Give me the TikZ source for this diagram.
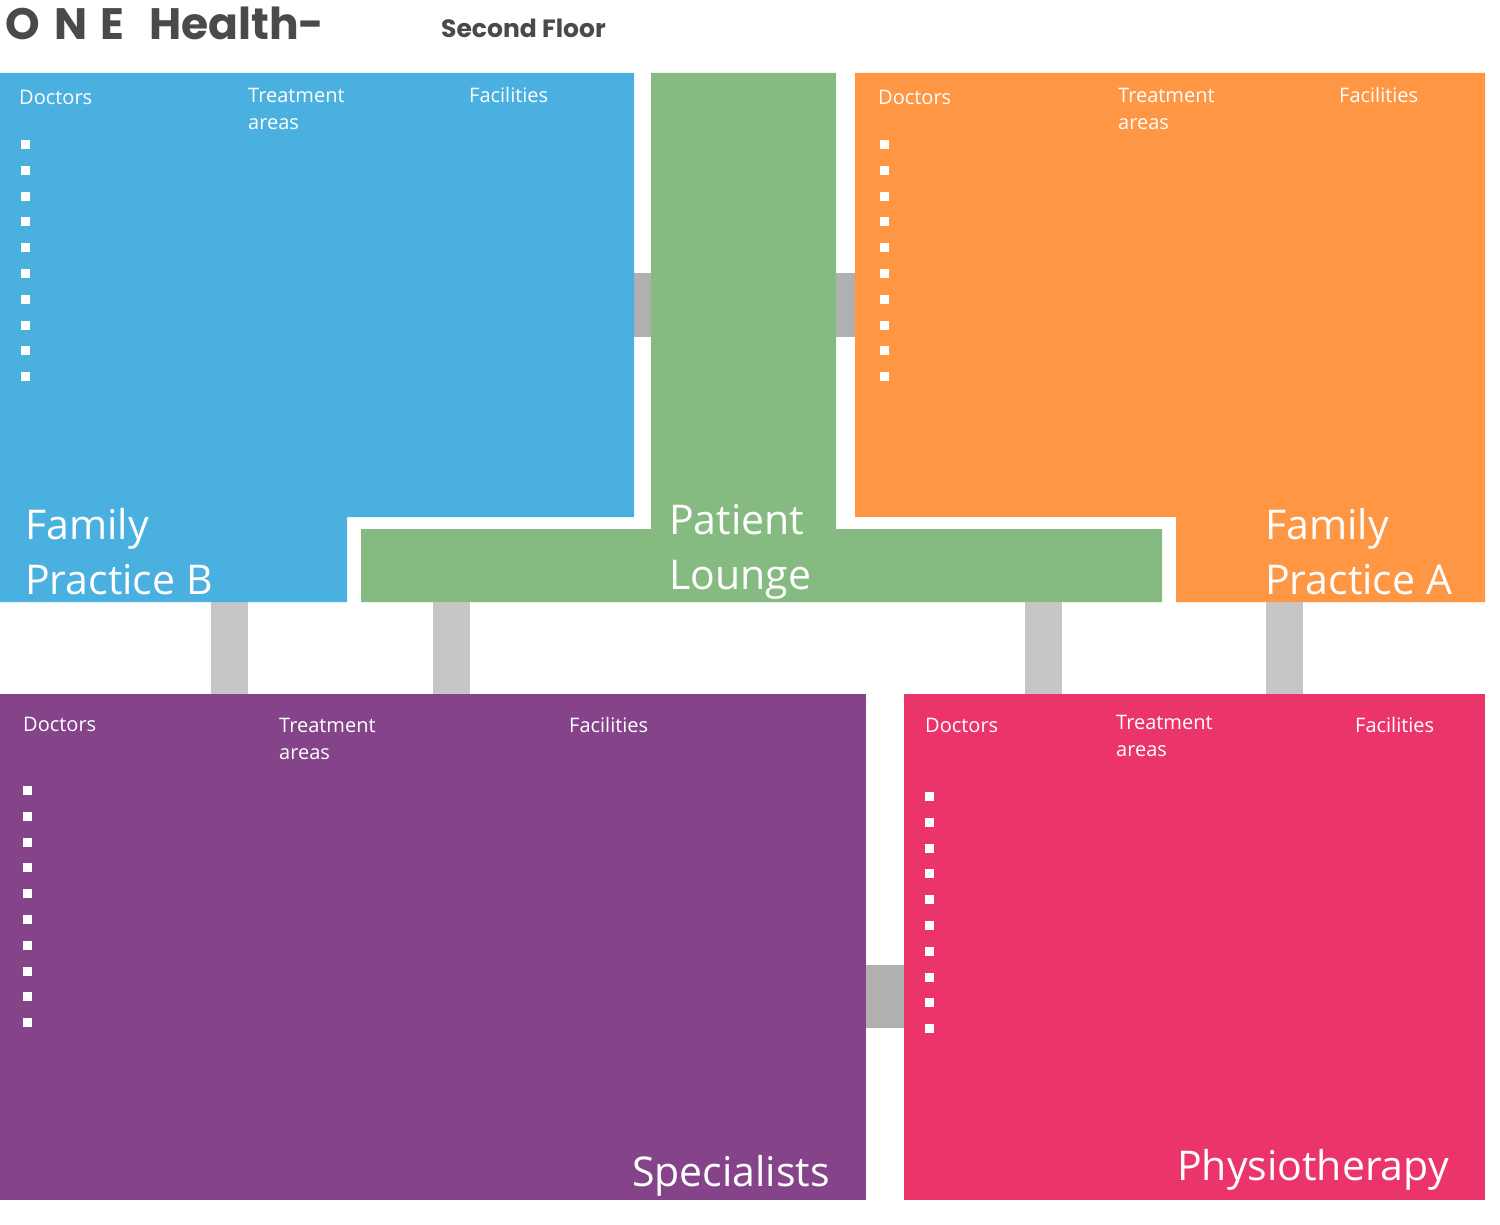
\documentclass[tikz,border=0pt]{standalone}
\usepackage{fontspec}
\setmainfont{Open Sans}
\newfontfamily\poppins{Poppins}
\definecolor{cblue}{HTML}{4AB0E0}
\definecolor{cgreen}{HTML}{85BA80}
\definecolor{corange}{HTML}{FE9644}
\definecolor{cpurple}{HTML}{85438A}
\definecolor{cpink}{HTML}{EB346A}
\definecolor{cgrayA}{HTML}{B0B0B0}
\definecolor{cgrayB}{HTML}{C6C6C6}
\definecolor{ctitle}{HTML}{4A4A4A}
\tikzset{
  small/.style={text=white,font=\fontsize{20}{27}\selectfont,anchor=base west,inner sep=0pt,align=left},
  big/.style={text=white,font=\fontsize{41}{55}\selectfont,anchor=base west,inner sep=0pt,align=left},
  ttl/.style={anchor=base west,inner sep=0pt,text=ctitle,font=\poppins\bfseries\fontsize{44}{44}\selectfont},
  link/.style={fill=cgrayA},
  vlink/.style={fill=cgrayB},
}
\newcommand{\bullets}[2]{%
  \foreach \i in {0,...,9}{\fill[white] (#1,#2+\i*25.8) rectangle ++(9,9);}}
\begin{document}
\begin{tikzpicture}[x=1pt,y=-1pt]
\useasboundingbox[fill=white] (0,0) rectangle (1500,1225);
% connectors
\fill[link] (630,273) rectangle (655,337);
\fill[link] (832,273) rectangle (859,337);
\fill[link] (862,965) rectangle (908,1028);
\fill[vlink] (211,598) rectangle (248,698);
\fill[vlink] (433,598) rectangle (470,698);
\fill[vlink] (1025,598) rectangle (1062,698);
\fill[vlink] (1266,598) rectangle (1303,698);
% rooms
\fill[cblue] (0,73) -- (634,73) -- (634,517) -- (347,517) -- (347,602) -- (0,602) -- cycle;
\fill[cgreen] (651,73) -- (836,73) -- (836,529) -- (1162,529) -- (1162,602) -- (361,602) -- (361,529) -- (651,529) -- cycle;
\fill[corange] (855,73) -- (1485,73) -- (1485,602) -- (1176,602) -- (1176,517) -- (855,517) -- cycle;
\fill[cpurple] (0,694) rectangle (866,1200);
\fill[cpink] (904,694) rectangle (1485,1200);
% title
\node[ttl] (tO) at (5,40) {O};
\node[ttl] (tN) at (54,40) {N};
\node[ttl] (tE) at (100,40) {E};
\node[ttl] (tH) at (149,40) {Health-};
\node[ttl,font=\poppins\bfseries\fontsize{25}{25}\selectfont] (floor) at (441,38) {Second Floor};
% blue
\node[small] (bdoc) at (19,105) {Doctors};
\node[small] (btreat) at (248,130) {Treatment\\areas};
\node[small] (bfac) at (469,103) {Facilities};
\bullets{21}{140}
\node[big] (bname) at (25,594) {Family\\Practice B};
% green
\node[big] (gname) at (669,589) {Patient\\Lounge};
% orange
\node[small] (odoc) at (878,105) {Doctors};
\node[small] (otreat) at (1118,130) {Treatment\\areas};
\node[small] (ofac) at (1339,103) {Facilities};
\bullets{880}{140}
\node[big] (oname) at (1265,594) {Family\\Practice A};
% purple
\node[small] (pdoc) at (23,731) {Doctors};
\node[small] (ptreat) at (279,759) {Treatment\\areas};
\node[small] (pfac) at (569,732) {Facilities};
\bullets{23}{786}
\node[big] (pname) at (632,1186) {Specialists};
% pink
\node[small] (kdoc) at (925,732) {Doctors};
\node[small] (ktreat) at (1116,756) {Treatment\\areas};
\node[small] (kfac) at (1355,732) {Facilities};
\bullets{925}{792}
\node[big] (kname) at (1177,1180) {Physiotherapy};
\end{tikzpicture}
\end{document}
